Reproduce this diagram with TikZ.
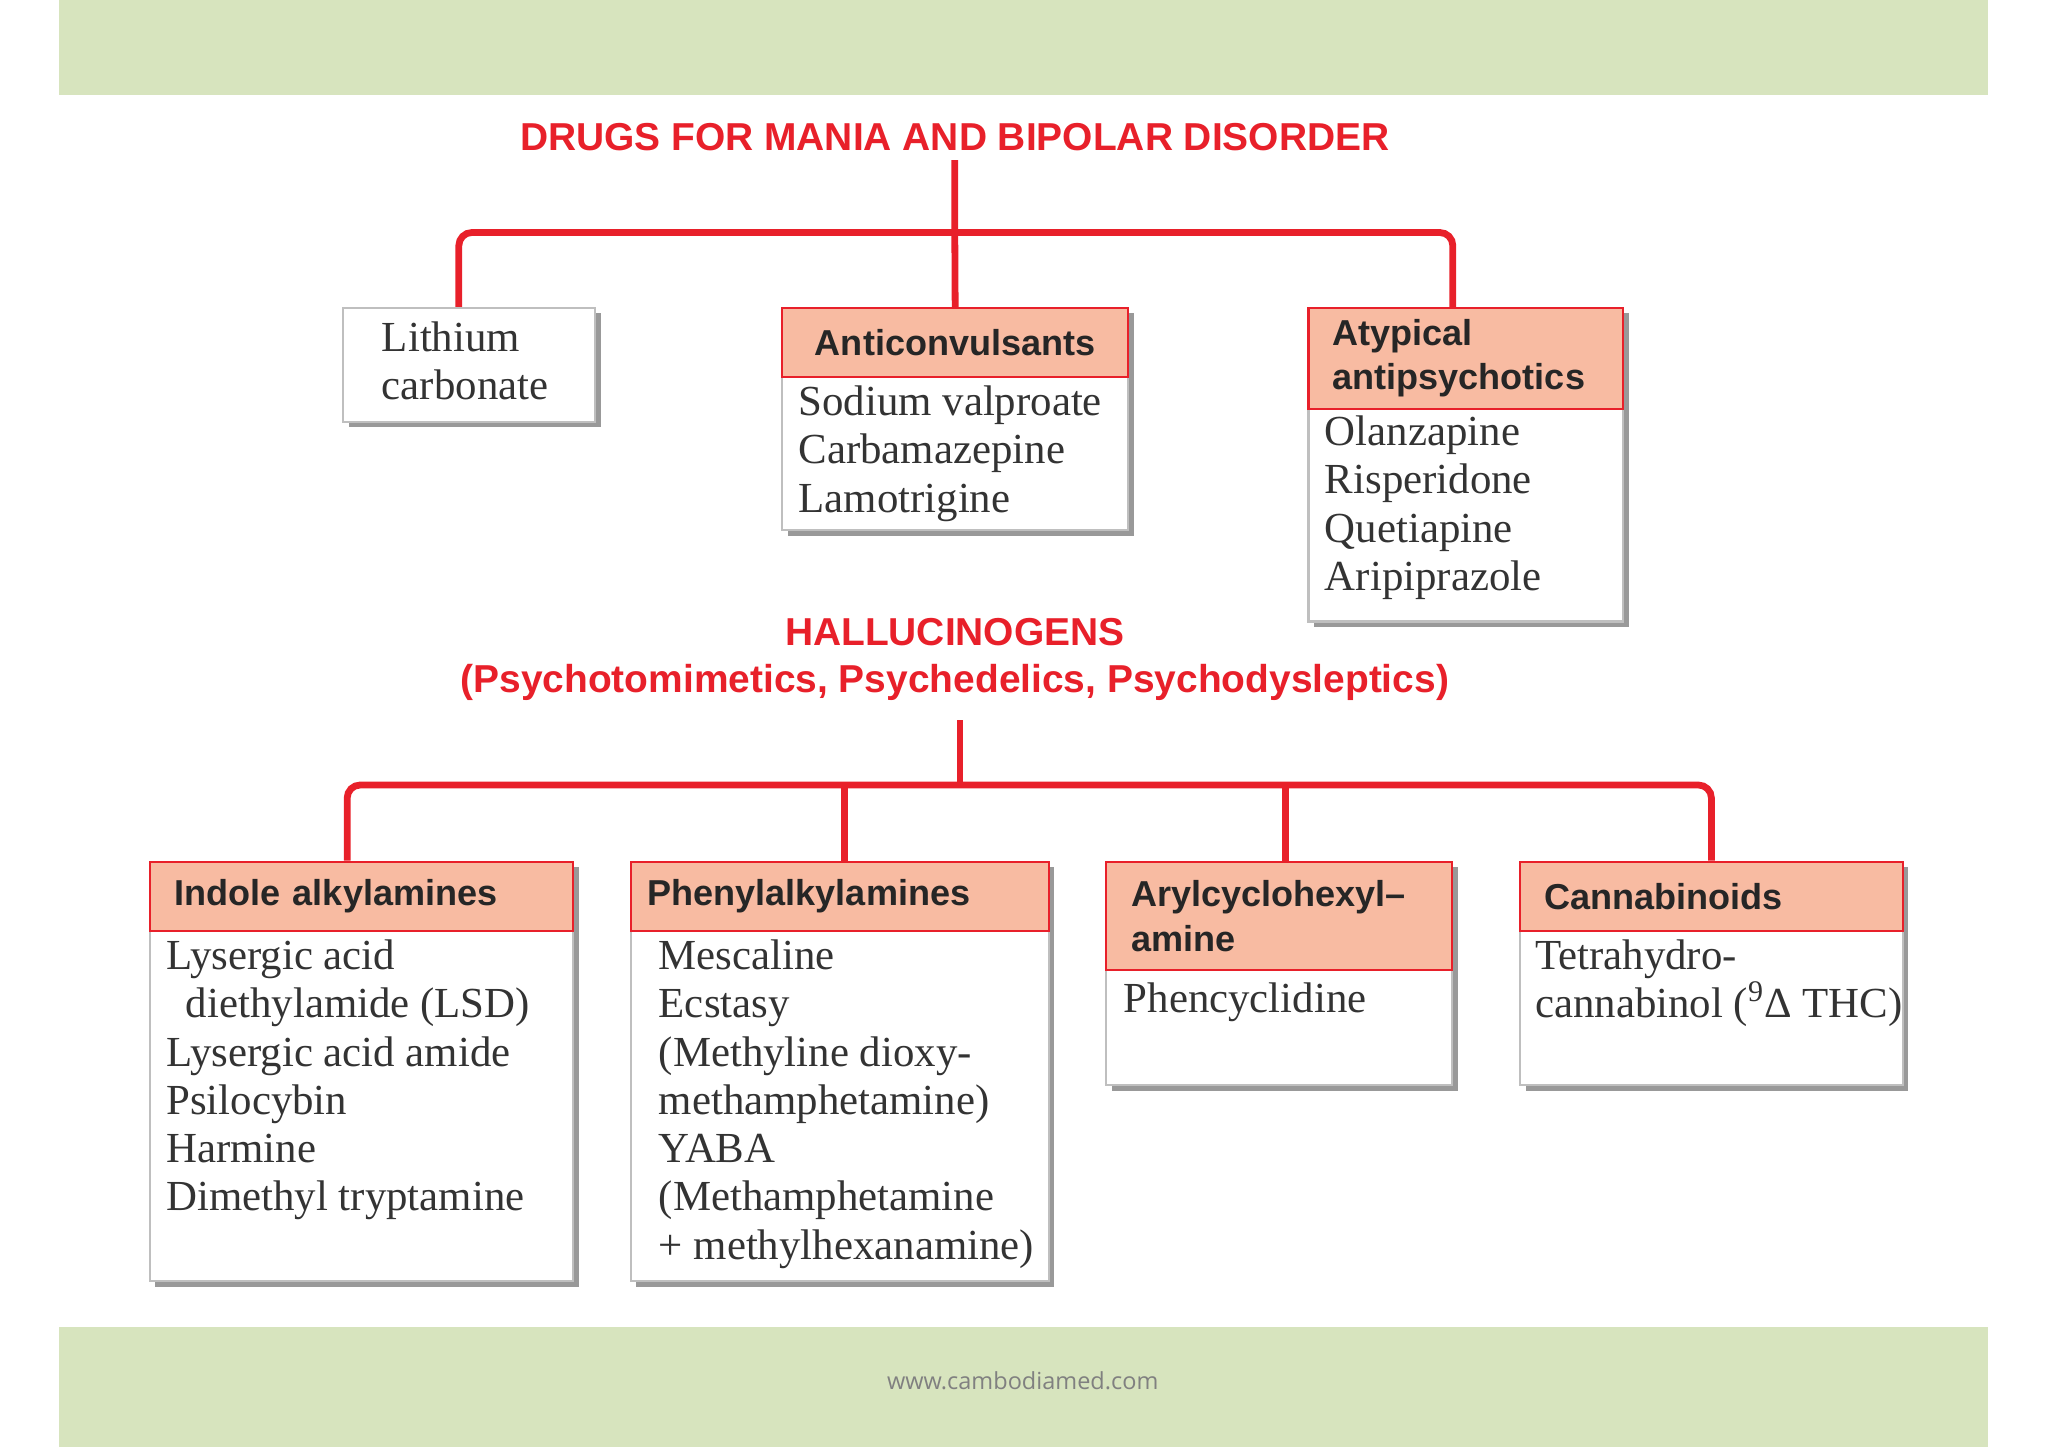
\documentclass[tikz,border=0pt]{standalone}
\usepackage{fontspec}
\setmainfont{Liberation Serif}
\setsansfont{Liberation Sans}
\newfontfamily\foot{Open Sans}
\definecolor{band}{HTML}{D7E4BE}
\definecolor{rd}{HTML}{E8202A}
\definecolor{hd}{HTML}{F8BBA2}
\tikzset{
 redline/.style={draw=rd,line width=2.6pt,rounded corners=5pt},
 hdr/.style={draw=rd,fill=hd,line width=0.8pt,anchor=north west,inner sep=0pt,font=\sffamily\bfseries\fontsize{13.8}{17}\selectfont,align=left,text=black!85},
 bodybox/.style={draw=black!25,fill=white,line width=0.8pt,anchor=north west,inner sep=0pt},
 txt/.style={anchor=north west,inner sep=0pt,align=left,font=\fontsize{16.4}{18.5}\selectfont,text=black!80},
 shad/.style={fill=black!40},
 ttl/.style={text=rd,font=\sffamily\bfseries\fontsize{14.9}{18}\selectfont,align=center}
}
\begin{document}
\begin{tikzpicture}[x=0.5pt,y=-0.5pt]
\useasboundingbox (0,0) rectangle (1568,1108);
\fill[band] (45,0) rectangle (1522,73);
\fill[band] (45,1016) rectangle (1522,1108);
\node[font=\foot\fontsize{9}{11}\selectfont,text=black!50] (web) at (783,1057) {www.cambodiamed.com};
% titles
\node[ttl] (t1) at (731,105) {DRUGS FOR MANIA AND BIPOLAR DISORDER};
\node[ttl] (t2) at (731,505) {HALLUCINOGENS\\(Psychotomimetics, Psychedelics, Psychodysleptics)};
% Lithium
\fill[shad] (267,240) rectangle (460,327);
\node[bodybox,minimum width=96.5pt,minimum height=43.5pt] (lith) at (262,235) {};
\node[txt] (lithT) at (292,246) {Lithium\\carbonate};
% Anticonvulsants
\fill[shad] (603,240) rectangle (868,410);
\node[bodybox,minimum width=132.5pt,minimum height=85pt] (antB) at (598,235) {};
\node[hdr,minimum width=132.5pt,minimum height=26.5pt,align=center] (ant) at (598,235) {Anticonvulsants};
\node[txt] (antT) at (611,295) {Sodium valproate\\Carbamazepine\\Lamotrigine};
% Atypical
\fill[shad] (1006,240) rectangle (1247,480);
\node[bodybox,minimum width=120.5pt,minimum height=120pt] (atyB) at (1001,235) {};
\node[hdr,minimum width=120.5pt,minimum height=38.5pt,text width=114pt] (aty) at (1001,235) {\hspace*{6pt}Atypical\\\hspace*{6pt}antipsychotics};
\node[txt] (atyT) at (1014,318) {Olanzapine\\Risperidone\\Quetiapine\\Aripiprazole};
% Indole
\fill[shad] (119,664) rectangle (443,985);
\node[bodybox,minimum width=162pt,minimum height=160.5pt] (indB) at (114,659) {};
\node[hdr,minimum width=162pt,minimum height=26.5pt,text width=155pt] (ind) at (114,659) {\hspace*{6pt}Indole alkylamines};
\node[txt] (indT) at (127,719) {Lysergic acid\\\hspace*{7.5pt}diethylamide (LSD)\\Lysergic acid amide\\Psilocybin\\Harmine\\Dimethyl tryptamine};
% Phenyl
\fill[shad] (487,664) rectangle (807,985);
\node[bodybox,minimum width=160pt,minimum height=160.5pt] (phB) at (482,659) {};
\node[hdr,minimum width=160pt,minimum height=26.5pt,text width=155pt] (ph) at (482,659) {\hspace*{4pt}Phenylalkylamines};
\node[txt] (phT) at (504,719) {Mescaline\\Ecstasy\\(Methyline dioxy-\\methamphetamine)\\YABA\\(Methamphetamine\\+ methylhexanamine)};
% Aryl
\fill[shad] (851,664) rectangle (1116,835);
\node[bodybox,minimum width=132.5pt,minimum height=85.5pt] (arB) at (846,659) {};
\node[hdr,minimum width=132.5pt,minimum height=41.5pt,text width=125pt] (ar) at (846,659) {\hspace*{6pt}Arylcyclohexyl–\\\hspace*{6pt}amine};
\node[txt] (arT) at (860,752) {Phencyclidine};
% Cannabinoids
\fill[shad] (1168,664) rectangle (1461,835);
\node[bodybox,minimum width=146.5pt,minimum height=85.5pt] (caB) at (1163,659) {};
\node[hdr,minimum width=146.5pt,minimum height=26.5pt,text width=140pt] (ca) at (1163,659) {\hspace*{6pt}Cannabinoids};
\node[txt] (caT) at (1175,719) {Tetrahydro-\\cannabinol (\textsuperscript{9}Δ THC)};
% connectors
\coordinate (j1) at (731,178);
\coordinate (j2) at (735,601);
\draw[redline] (t1.south) -- (j1) -- (ant.north);
\draw[redline] ([xshift=-4pt]lith.north) |- (j1) -| ([xshift=-5pt]aty.north);
\draw[redline] ([yshift=-4pt]t2.south -| j2) -- (j2);
\draw[redline] ([xshift=-5.5pt]ind.north) |- (j2) -| (ca.north);
\draw[redline] ([xshift=2pt]ph.north) -- ++(0,-58);
\draw[redline] ([xshift=2.5pt]ar.north) -- ++(0,-58);
\end{tikzpicture}
\end{document}
